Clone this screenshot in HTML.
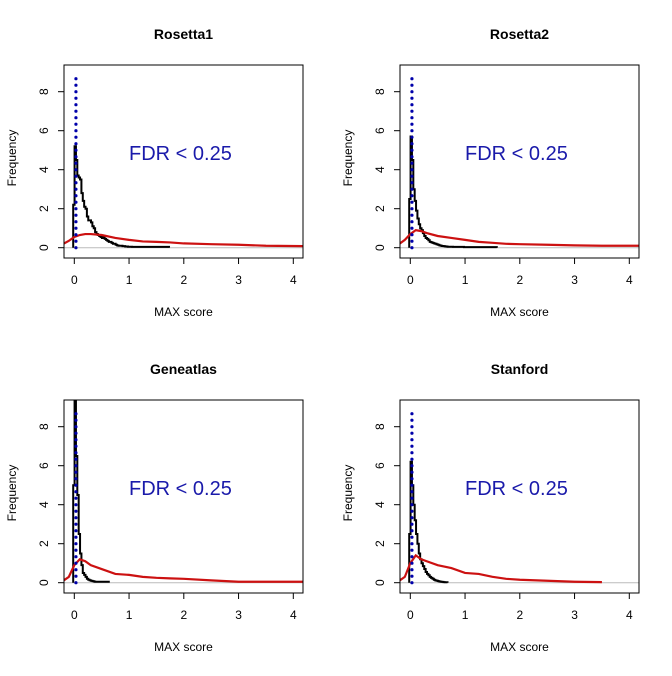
<!DOCTYPE html>
<html><head><meta charset="utf-8"><style>
body{margin:0;background:#fff}
svg text{font-family:"Liberation Sans",Arial,sans-serif}
</style></head><body>
<svg id="c" width="672" height="671" xmlns="http://www.w3.org/2000/svg"></svg>
<script>
const titles = ["Rosetta1","Rosetta2","Geneatlas","Stanford"];
const xTicks = [0,1,2,3,4];
const yTicks = [0,2,4,6,8];
const blackStep = 0.025;
const black1 = [2.2,5.2,4.5,3.7,3.6,3.5,2.8,2.4,2.1,2.0,1.6,1.4,1.4,1.3,1.1,1.0,0.8,0.7,0.65,0.6,0.55,0.5,0.55,0.45,0.4,0.35,0.3,0.3,0.25,0.2,0.2,0.15,0.12,0.1,0.1,0.1,0.08,0.08,0.06,0.06,0.05,0.05,0.05,0.04,0.04,0.04,0.04,0.04,0.04,0.04,0.04,0.04,0.04,0.04,0.04,0.04,0.04,0.04,0.04,0.04,0.04,0.04,0.04,0.04,0.04,0.04,0.04,0.04,0.04,0.04];
const black2 = [2.5,5.7,4.5,3.0,2.4,1.9,1.5,1.2,1.0,0.9,0.75,0.6,0.5,0.45,0.38,0.3,0.28,0.25,0.22,0.2,0.17,0.15,0.12,0.1,0.09,0.08,0.07,0.06,0.05,0.05,0.05,0.05,0.04,0.04,0.04,0.04,0.04,0.04,0.04,0.04,0.03,0.03,0.03,0.03,0.03,0.03,0.03,0.03,0.03,0.03,0.03,0.03,0.03,0.03,0.03,0.03,0.03,0.03,0.03,0.03,0.03,0.03,0.03,0.03];
const black3 = [5.0,9.5,6.5,4.5,2.5,1.5,0.9,0.5,0.4,0.3,0.2,0.15,0.12,0.1,0.08,0.06,0.05,0.05,0.05,0.05,0.05,0.05,0.05,0.05,0.05,0.05];
const black4 = [2.5,6.2,5.0,4.0,3.2,2.5,2.0,1.5,1.2,1.0,0.85,0.7,0.55,0.45,0.38,0.3,0.25,0.2,0.15,0.12,0.1,0.08,0.06,0.05,0.04,0.03,0.02,0.02];
const redX = [-0.2,-0.1,0,0.1,0.2,0.3,0.5,0.75,1,1.25,1.5,1.75,2,2.5,3,3.5,4.2];
const red1 = [0.2,0.35,0.55,0.65,0.7,0.7,0.65,0.5,0.4,0.32,0.3,0.27,0.22,0.18,0.15,0.1,0.08];
const red2 = [0.2,0.4,0.7,0.9,0.85,0.75,0.6,0.5,0.4,0.3,0.25,0.2,0.18,0.15,0.12,0.1,0.1];
const red3 = [0.1,0.3,0.9,1.2,1.1,0.9,0.7,0.45,0.4,0.3,0.25,0.22,0.2,0.12,0.05,0.05,0.05];
const red4 = [0.1,0.3,1.0,1.4,1.2,1.1,0.9,0.75,0.5,0.45,0.3,0.2,0.15,0.1,0.05,0.03];
const cutoff = 0.03;
const blacks=[black1,black2,black3,black4], reds=[red1,red2,red3,red4];
const offs=[[0,0],[336,0],[0,335],[336,335]];
const NS="http://www.w3.org/2000/svg", svg=document.getElementById('c');
function mk(t,a,p,txt){const e=document.createElementNS(NS,t);for(const k in a)e.setAttribute(k,a[k]);if(txt!==undefined)e.textContent=txt;(p||svg).appendChild(e);return e;}
for(let i=0;i<4;i++){
  const ox=offs[i][0], oy=offs[i][1];
  const g=mk('g',{});
  
  
  const X=v=>74.3+ox+v*54.75, Y=v=>247.7+oy-v*19.5;
  const L=64+ox, R=303+ox, T=65+oy, B=258+oy;
  const cp=mk('clipPath',{id:'cp'+i},g); mk('rect',{x:L,y:T,width:R-L,height:B-T},cp);
  const t=mk('text',{x:(L+R)/2,y:39+oy,'text-anchor':'middle','font-size':14,'font-weight':'bold'},g,titles[i]);
  
  
  const pg=mk('g',{'clip-path':'url(#cp'+i+')'},g);
  mk('line',{x1:L,x2:R,y1:Y(0),y2:Y(0),stroke:'#bbb','stroke-width':1},pg);
  const bl=blacks[i]; const x00=-0.02; let d='M'+X(x00)+','+Y(0);
  for(let k=0;k<bl.length;k++){const x0=X(x00+k*blackStep),x1=X(x00+(k+1)*blackStep);d+=' L'+x0+','+Y(bl[k])+' L'+x1+','+Y(bl[k]);}
  d+=' L'+X(x00+bl.length*blackStep)+','+Y(0);
  const bp=mk('path',{d:d,fill:'none',stroke:'#000','stroke-width':2},pg);
  
  
  const rv=reds[i]; let rd='';
  for(let k=0;k<rv.length;k++) rd+=(k?' L':'M')+X(redX[k])+','+Y(rv[k]);
  const rp=mk('path',{d:rd,fill:'none',stroke:'#cc1111','stroke-width':2.2},pg);
  
  
  const vl=mk('line',{x1:X(cutoff),x2:X(cutoff),y1:Y(0),y2:Y(8.8),stroke:'#0000aa','stroke-width':3.2,'stroke-dasharray':'0 6.5','stroke-linecap':'round'},pg);
  
  
  const ft=mk('text',{x:X(1.5)+24,y:160+oy,'text-anchor':'middle','font-size':20,fill:'#1a1aaa'},g,'FDR < 0.25');
  
  
  const box=mk('rect',{x:L,y:T,width:R-L,height:B-T,fill:'none',stroke:'#000','stroke-width':1},g);
  
  
  mk('line',{x1:L,x2:L,y1:Y(0),y2:Y(8),stroke:'#000'},g);
  yTicks.forEach(v=>{mk('line',{x1:L-6,x2:L,y1:Y(v),y2:Y(v),stroke:'#000'},g);
    const tl=mk('text',{x:0,y:0,'font-size':12,'text-anchor':'middle',transform:`translate(${L-16},${Y(v)}) rotate(-90)`},g,String(v));
    
    });
  mk('line',{x1:X(0),x2:X(4),y1:B,y2:B,stroke:'#000'},g);
  xTicks.forEach(v=>{mk('line',{x1:X(v),x2:X(v),y1:B,y2:B+6,stroke:'#000'},g);
    const tl=mk('text',{x:X(v),y:B+26,'font-size':12,'text-anchor':'middle'},g,String(v));
    
    });
  const xl=mk('text',{x:(L+R)/2,y:316+oy,'font-size':12,'text-anchor':'middle'},g,'MAX score');
  
  
  const yl=mk('text',{x:0,y:0,'font-size':12,'text-anchor':'middle',transform:`translate(${16+ox},${158+oy}) rotate(-90)`},g,'Frequency');
  
  
}
</script>
</body></html>
